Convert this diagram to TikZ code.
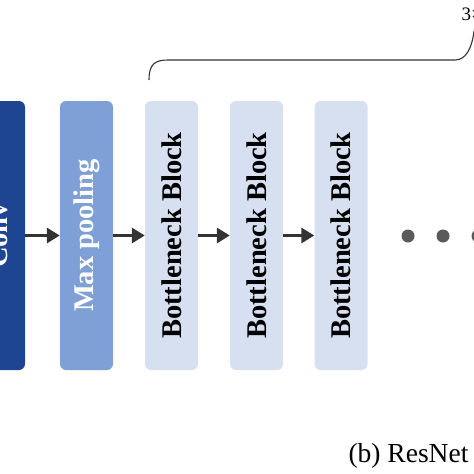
\documentclass[tikz,border=0pt]{standalone}
\usepackage{fontspec}
\setmainfont{Liberation Serif}
\usetikzlibrary{arrows.meta}

\definecolor{convblue}{RGB}{30,69,145}
\definecolor{poolblue}{RGB}{127,160,214}
\definecolor{blockblue}{RGB}{214,224,241}
\definecolor{arrowgray}{RGB}{51,51,51}
\definecolor{dotgray}{RGB}{90,90,90}

\begin{document}
\begin{tikzpicture}[x=1pt,y=-1pt,
    layer/.style={rounded corners=6pt, minimum width=53pt, minimum height=269pt, inner sep=0pt, font=\fontsize{28.5}{30}\selectfont\bfseries},
    flow/.style={-{Triangle[length=13pt,width=15pt]}, line width=3.6pt, draw=arrowgray},
    dot/.style={circle, fill=dotgray, minimum size=13pt, inner sep=0pt}]
    \useasboundingbox (0,0) rectangle (474,474);

    \node[layer, fill=convblue, text=white](conv) at (-1.5,235.5){\rotatebox{90}{Conv}};
    \node[layer, fill=poolblue, text=white](pool) at (86.5,235.5){\rotatebox{90}{Max pooling}};
    \node[layer, fill=blockblue](blk1) at (171.5,235.5){\rotatebox{90}{Bottleneck Block}};
    \node[layer, fill=blockblue](blk2) at (256.5,235.5){\rotatebox{90}{Bottleneck Block}};
    \node[layer, fill=blockblue](blk3) at (341,235.5){\rotatebox{90}{Bottleneck Block}};

    \draw[flow](conv)--(pool);
    \draw[flow](pool)--(blk1);
    \draw[flow](blk1)--(blk2);
    \draw[flow](blk2)--(blk3);

    \node[dot](d1) at (408,236){};
    \node[dot](d2) at (443,236){};
    \node[dot](d3) at (478,236){};

    \coordinate(brl) at (149,80);
    \coordinate(brt) at (474,31);
    \draw[line width=1.1pt, draw=arrowgray](brl) .. controls (149,64) and (155,60) .. (168,60) -- (455,60) .. controls (466,60) and (472,48) .. (brt);
    \node[anchor=west, font=\fontsize{19}{20}\selectfont](rep) at (458,14){3×};

    \node[anchor=west, font=\fontsize{27.5}{29}\selectfont](cap) at (345,456){(b) ResNet};
\end{tikzpicture}
\end{document}
